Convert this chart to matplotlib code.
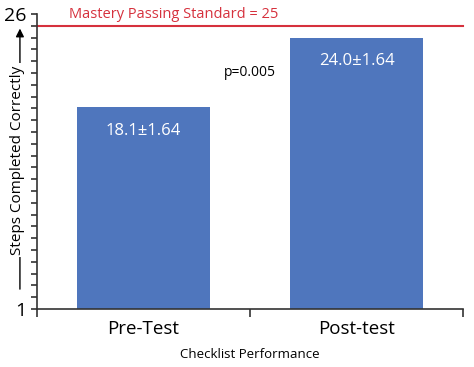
import matplotlib
matplotlib.use("Agg")
import matplotlib.pyplot as plt

# checklist scores
categories = ["Pre-Test", "Post-test"]
means = [18.1, 24.0]
labels = ["18.1\u00b11.64", "24.0\u00b11.64"]
standard = 25
ymin, ymax = 1, 26

plt.rcParams['font.family'] = ['Open Sans', 'DejaVu Sans']

fig = plt.figure(figsize=(4.74, 3.67), dpi=100)
ax = fig.add_axes([0.078, 0.158, 0.899, 0.804])

bar_color = '#4f76bd'
x = list(range(len(categories)))
bars = ax.bar(x, [m - ymin for m in means], bottom=ymin, width=0.625, color=bar_color)

for b, lab in zip(bars, labels):
	ax.text(b.get_x() + b.get_width() / 2, b.get_y() + b.get_height() - 2.0, lab,
			ha='center', va='center', color='white', fontsize=12)

# mastery line
red = '#d6313d'
ax.axhline(standard, color=red, lw=1.5, clip_on=False)
ax.text(0.075, standard + 0.3, "Mastery Passing Standard = %d" % standard,
		transform=ax.get_yaxis_transform(), color=red, fontsize=10.5, va='bottom', ha='left')

ax.text(0.5, 21.0, "p=0.005", ha='center', va='center', fontsize=10)

ax.set_xlim(-0.5, 1.5)
ax.set_ylim(ymin, ymax)
ax.set_yticks([ymin, ymax])
ax.set_yticks(range(ymin, ymax + 1), minor=True)
ax.tick_params(axis='y', which='both', length=4, width=1.2, labelsize=14, color='#333333')
ax.set_xticks(x)
ax.set_xticklabels(categories, fontsize=13.5)
ax.set_xticks([-0.5, 0.5, 1.5], minor=True)
ax.tick_params(axis='x', which='major', length=0, pad=8)
ax.tick_params(axis='x', which='minor', length=6, width=1.2, color='#333333')

for s in ['top', 'right']:
	ax.spines[s].set_visible(False)
for s in ['left', 'bottom']:
	ax.spines[s].set_color('#333333')
	ax.spines[s].set_linewidth(1.2)

ax.set_xlabel("Checklist Performance", fontsize=9.5, labelpad=7)

# y label with arrow
ax.annotate("", xy=(-0.04, 0.96), xytext=(-0.04, 0.058), xycoords='axes fraction',
			arrowprops=dict(arrowstyle='-|>', color='black', lw=1, mutation_scale=12),
			annotation_clip=False)
ax.text(-0.045, 0.505, "Steps Completed Correctly", transform=ax.transAxes, rotation=90,
		ha='center', va='center', fontsize=11,
		bbox=dict(facecolor='white', edgecolor='none', pad=2))

fig.savefig("out.png", dpi=100)
